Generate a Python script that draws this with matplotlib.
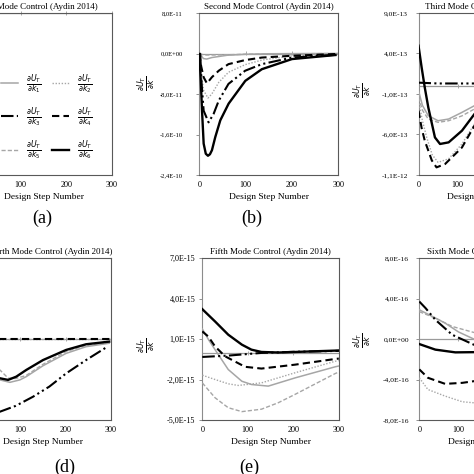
import numpy as np
import matplotlib
matplotlib.use("Agg")
import matplotlib.pyplot as plt
from matplotlib.lines import Line2D
from matplotlib.ticker import FuncFormatter

plt.rcParams['font.family'] = ['Liberation Serif', 'DejaVu Serif']
plt.rcParams['mathtext.fontset'] = 'dejavusans'

# ---------------- data ----------------
titles = ["First Mode Control (Aydin 2014)", "Second Mode Control (Aydin 2014)",
          "Third Mode Control (Aydin 2014)", "Fourth Mode Control (Aydin 2014)",
          "Fifth Mode Control (Aydin 2014)", "Sixth Mode Control (Aydin 2014)"]
panel_tags = ["(a)", "(b)", "(d)", "(e)"]
xlabel = "Design Step Number"
x_ticks = [0, 100, 200, 300]

# (b) Second mode, values in 1e-11
b_k1_x = [0, 9, 16, 27, 60, 100, 150, 200, 300]
b_k1_y = [0, -1.0, -1.1, -0.8, -0.35, -0.15, -0.05, -0.02, 0]
b_k2_x = [0, 4, 9.4, 18.7, 27, 42, 63, 99, 135, 200, 294]
b_k2_y = [0, -4.0, -7.3, -8.8, -8.0, -5.7, -3.7, -2.2, -1.3, -0.45, -0.1]
b_k3_x = [0, 2, 5, 9.4, 20, 31, 42, 63, 99, 135, 200, 294]
b_k3_y = [0, -0.1, -6.0, -11.3, -13.6, -11.9, -9.3, -6.0, -3.4, -2.1, -0.8, -0.26]
b_k4_x = [0, 4, 9.4, 16.5, 27, 42, 63, 99, 135, 200, 294]
b_k4_y = [0, -2.5, -4.7, -5.9, -4.7, -3.4, -2.1, -1.3, -0.8, -0.45, -0.1]
b_k5_x = [0, 10, 30, 60, 100, 200, 300]
b_k5_y = [0, -0.3, -0.3, -0.25, -0.15, -0.05, 0]
b_k6_x = [0, 3, 6, 9.4, 14, 18.7, 23, 27.3, 34.5, 45.3, 63.3, 99.3, 135, 200, 294]
b_k6_y = [-0.1, -5.0, -11.5, -17.8, -19.8, -20.2, -19.9, -19.1, -16.5, -13.2, -9.9, -5.4, -3.1, -1.1, -0.3]

# (c) Third mode, values in 1e-13
c_k1_x = [0, 10, 25, 50, 77, 111, 143, 200, 300]
c_k1_y = [-0.59, -2.4, -3.68, -4.3, -4.09, -3.27, -2.44, -1.2, -0.3]
c_k2_x = [0, 10, 21, 35, 50, 77, 111, 143, 200, 300]
c_k2_y = [-1.83, -4.3, -6.36, -8.5, -9.44, -9.0, -7.17, -4.7, -2.0, -0.4]
c_k3_x = [0, 50, 100, 143, 200, 300]
c_k3_y = [0.4, 0.3, 0.3, 0.3, 0.2, 0.1]
c_k4_x = [0, 8, 16, 34, 46, 68, 111, 143, 200, 300]
c_k4_y = [-3.06, -5.2, -6.77, -9.2, -10.06, -9.64, -7.6, -4.9, -2.2, -0.5]
c_k5_x = [0, 10, 25, 50, 77, 111, 143, 200, 300]
c_k5_y = [-1.4, -3.0, -4.1, -4.5, -4.3, -3.7, -2.85, -1.4, -0.4]
c_k6_x = [0, 8, 16, 25, 42, 55, 77, 111, 143, 200, 300]
c_k6_y = [4.96, 2.28, -0.19, -2.65, -6.36, -7.17, -6.97, -5.53, -3.47, -1.3, -0.3]

# (d) Fourth mode (axis values off-picture), relative units
d_k1_x = [40, 55, 77, 99, 113, 150, 201, 245, 296]
d_k1_y = [-1.9, -2.02, -2.14, -2.02, -1.86, -1.32, -0.71, -0.38, -0.21]
d_k2_x = [40, 100, 200, 300]
d_k2_y = [0, 0, 0, 0]
d_k3_x = [40, 55, 90, 128, 164, 201, 245, 292]
d_k3_y = [-3.7, -3.59, -3.3, -2.85, -2.35, -1.7, -1.04, -0.38]
d_k4_x = [40, 100, 200, 300]
d_k4_y = [0, 0, 0, 0]
d_k5_x = [40, 55, 73, 90, 113, 150, 201, 245, 296]
d_k5_y = [-1.3, -1.53, -1.93, -1.95, -1.8, -1.25, -0.62, -0.32, -0.18]
d_k6_x = [40, 55, 73, 91, 113, 150, 201, 245, 296]
d_k6_y = [-1.85, -1.94, -2.02, -1.86, -1.53, -1.04, -0.54, -0.26, -0.13]

# (e) Fifth mode, values in 1e-15
e_k1_x = [0, 13.7, 28, 57, 87, 108, 145, 204, 292, 300]
e_k1_y = [1.75, 0.95, 0.21, -1.26, -2.13, -2.37, -2.49, -1.88, -1.06, -1.0]
e_k2_x = [0, 28, 57, 79, 130, 204, 292, 300]
e_k2_y = [-1.68, -2.0, -2.32, -2.44, -2.25, -1.5, -0.65, -0.6]
e_k3_x = [0, 57, 130, 200, 300]
e_k3_y = [-0.33, -0.23, -0.03, 0.05, 0.12]
e_k4_x = [0, 13, 28, 50, 94, 130, 204, 292, 300]
e_k4_y = [1.56, 1.19, 0.45, -0.28, -1.06, -1.19, -0.9, -0.48, -0.45]
e_k5_x = [0, 28, 57, 87, 130, 167, 204, 292, 300]
e_k5_y = [-2.25, -3.35, -4.09, -4.38, -4.2, -3.72, -3.1, -1.56, -1.45]
e_k6_x = [0, 28, 57, 87, 108, 130, 167, 204, 292, 300]
e_k6_y = [3.21, 2.3, 1.32, 0.58, 0.21, 0.04, 0.0, 0.04, 0.14, 0.15]

# (f) Sixth mode, values in 1e-16
f_k1_x = [0, 30, 66, 100, 139, 200, 300]
f_k1_y = [2.88, 2.3, 1.57, 0.7, 0.0, -0.5, -0.8]
f_k2_x = [0, 22, 66, 110, 139, 200, 300]
f_k2_y = [-3.83, -4.99, -5.64, -6.2, -6.3, -6.0, -5.0]
f_k3_x = [0, 16, 41, 84, 139, 200, 300]
f_k3_y = [3.7, 3.05, 1.9, 0.42, -0.56, -1.0, -1.2]
f_k4_x = [0, 22, 66, 110, 139, 200, 300]
f_k4_y = [-3.0, -3.83, -4.43, -4.33, -4.17, -3.8, -3.0]
f_k5_x = [0, 41, 84, 139, 200, 300]
f_k5_y = [2.7, 2.06, 1.24, 0.65, 0.3, 0.1]
f_k6_x = [0, 41, 92, 139, 200, 300]
f_k6_y = [-0.5, -1.05, -1.32, -1.3, -1.1, -0.8]

# ---------------- styles ----------------
GRAY = '#a6a6a6'
styles = {
    'k1': dict(color=GRAY, lw=1.1, ls='-'),
    'k2': dict(color=GRAY, lw=1.0, ls=(0, (1, 1.2))),
    'k3': dict(color='black', lw=1.5, ls=(0, (6, 1.6, 1, 1.6, 1, 1.6))),
    'k4': dict(color='black', lw=1.5, ls=(0, (3.5, 2))),
    'k5': dict(color=GRAY, lw=1.0, ls=(0, (3, 1.5))),
    'k6': dict(color='black', lw=1.7, ls='-'),
}

W = H = 474.0
fig = plt.figure(figsize=(4.74, 4.74), dpi=100)


def px_axes(x0, x1, y0, y1):
    return fig.add_axes([x0 / W, 1 - y1 / H, (x1 - x0) / W, (y1 - y0) / H])


def sci_comma(v, pos=None):
    if abs(v) < 1e-30:
        return "0,0E+00"
    e = int(np.floor(np.log10(abs(v)) + 1e-9))
    m = v / 10 ** e
    return (f"{m:.1f}E{e:+03d}").replace('.', ',')


def style_axes(ax, xlim, ylim, yticks, title, tick_fs=4.8, pad=10, title_x=0.5):
    ax.set_xlim(*xlim)
    ax.set_ylim(*ylim)
    ax.set_xticks(x_ticks)
    ax.set_xticklabels([str(t) for t in x_ticks])
    ax.set_yticks(yticks)
    ax.yaxis.set_major_formatter(FuncFormatter(sci_comma))
    ax.tick_params(axis='x', length=0, pad=4, labelsize=5.9)
    ax.tick_params(axis='y', length=2.5, width=0.6, color='#808080', pad=pad, labelsize=tick_fs)
    for s in ax.spines.values():
        s.set_color('#595959')
        s.set_linewidth(0.8)
    ax.spines['left'].set_color('#8c8c8c')
    ax.axhline(0, color='#9a9a9a', lw=0.9, zorder=1)
    # small tick marks on the horizontal axis line drawn at zero
    zero_frac = (0 - ylim[0]) / (ylim[1] - ylim[0])
    sec = ax.secondary_xaxis(zero_frac)
    sec.set_xticks(x_ticks[1:])
    sec.tick_params(axis='x', length=3, width=0.6, direction='inout', color='#9a9a9a',
                    labelbottom=False, labeltop=False)
    for s in sec.spines.values():
        s.set_visible(False)
    ax.set_title(title, fontsize=6.5, pad=3, x=title_x)
    ax.set_xlabel(xlabel, fontsize=6.8, labelpad=3)


def draw(ax, series, scale):
    for key, (xs, ys) in series.items():
        ax.plot(xs, np.asarray(ys) * scale, **styles[key], zorder=3)


ylab = r'$\frac{\partial U_T}{\partial k}$'

# (a) legend panel
axA = px_axes(-25, 112, 13, 175)
style_axes(axA, (0, 300), (-1, 0), [], titles[0], title_x=0.46)
handles = [Line2D([], [], **styles[k]) for k in ['k1', 'k3', 'k5', 'k2', 'k4', 'k6']]
labels = [r'$\frac{\partial U_T}{\partial k_%s}$' % i for i in ['1', '3', '5', '2', '4', '6']]
axA.legend(handles, labels, ncol=2, frameon=False, fontsize=8,
           loc='upper right', bbox_to_anchor=(98 / W, 1 - 66 / H), bbox_transform=fig.transFigure,
           handlelength=1.5, handletextpad=0.75, columnspacing=0.95, labelspacing=0.85, borderpad=0)

# (b)
axB = px_axes(199.3, 338.3, 13, 175)
style_axes(axB, (0, 300), (-2.4e-10, 8e-11), [-2.4e-10, -1.6e-10, -8e-11, 0, 8e-11], titles[1], tick_fs=4.7, pad=9.5)
draw(axB, {'k1': (b_k1_x, b_k1_y), 'k5': (b_k5_x, b_k5_y), 'k2': (b_k2_x, b_k2_y),
           'k4': (b_k4_x, b_k4_y), 'k3': (b_k3_x, b_k3_y), 'k6': (b_k6_x, b_k6_y)}, 1e-11)

# (c)
axC = px_axes(418.5, 555.5, 13, 175)
style_axes(axC, (0, 350), (-1.1e-12, 9e-13), [-1.1e-12, -6e-13, -1e-13, 4e-13, 9e-13], titles[2], tick_fs=5.4, pad=5)
draw(axC, {'k1': (c_k1_x, c_k1_y), 'k5': (c_k5_x, c_k5_y), 'k2': (c_k2_x, c_k2_y),
           'k4': (c_k4_x, c_k4_y), 'k3': (c_k3_x, c_k3_y), 'k6': (c_k6_x, c_k6_y)}, 1e-13)

# (d)
axD = px_axes(-25, 111, 258, 420)
style_axes(axD, (0, 300), (-4e-14, 4e-14), [], titles[3], title_x=0.54)
draw(axD, {'k1': (d_k1_x, d_k1_y), 'k5': (d_k5_x, d_k5_y), 'k2': (d_k2_x, d_k2_y),
           'k4': (d_k4_x, d_k4_y), 'k3': (d_k3_x, d_k3_y), 'k6': (d_k6_x, d_k6_y)}, 1e-14)

# (e)
axE = px_axes(202.3, 338.8, 258, 420)
style_axes(axE, (0, 300), (-5e-15, 7e-15), [-5e-15, -2e-15, 1e-15, 4e-15, 7e-15], titles[4], tick_fs=5.9, pad=2.5)
draw(axE, {'k1': (e_k1_x, e_k1_y), 'k5': (e_k5_x, e_k5_y), 'k2': (e_k2_x, e_k2_y),
           'k4': (e_k4_x, e_k4_y), 'k3': (e_k3_x, e_k3_y), 'k6': (e_k6_x, e_k6_y)}, 1e-15)

# (f)
axF = px_axes(419.3, 556.3, 258, 420)
style_axes(axF, (0, 350), (-8e-16, 8e-16), [-8e-16, -4e-16, 0, 4e-16, 8e-16], titles[5], tick_fs=5.4, pad=5)
draw(axF, {'k1': (f_k1_x, f_k1_y), 'k5': (f_k5_x, f_k5_y), 'k2': (f_k2_x, f_k2_y),
           'k4': (f_k4_x, f_k4_y), 'k3': (f_k3_x, f_k3_y), 'k6': (f_k6_x, f_k6_y)}, 1e-16)

# y labels
for (x, y) in [(147, 83), (363, 90), (147, 345), (363, 340)]:
    fig.text(x / W, 1 - y / H, ylab, rotation=90, ha='center', va='center', fontsize=8)

# panel tags
for tag, (x, y) in zip(panel_tags, [(42.5, 218), (251.7, 218), (64.5, 467), (249.5, 467)]):
    fig.text(x / W, 1 - y / H, tag, ha='center', va='center', fontsize=13)

fig.savefig('out.png', dpi=100)
